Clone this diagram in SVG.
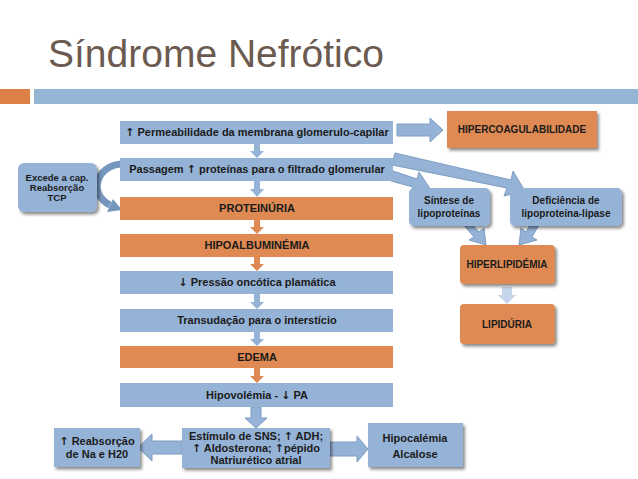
<svg xmlns="http://www.w3.org/2000/svg" width="638" height="479" viewBox="0 0 638 479">
<style>
.bl{fill:#95b3d7}
.or{fill:#df8a52}
.t{font-family:"Liberation Sans",Arial,sans-serif;font-weight:bold;fill:#1b1b1b;text-anchor:middle}
.m{font-size:11px}
.s{font-size:9.5px}
.h{font-size:10px}
.ar{font-family:"DejaVu Sans",sans-serif;font-weight:bold}
.ba{fill:#95b3d7;stroke:#7e9dc2;stroke-width:1}
</style>
<defs>
<filter id="sh" x="-20%" y="-20%" width="150%" height="160%">
<feDropShadow dx="2" dy="2.5" stdDeviation="1.5" flood-color="#000" flood-opacity="0.45"/>
</filter>
</defs>
<rect width="638" height="479" fill="#fff"/>
<text x="48" y="67" font-family="Liberation Sans,Arial,sans-serif" font-size="39" fill="#6b5a50">Síndrome Nefrótico</text>
<rect x="0" y="89" width="30" height="15" fill="#dd8047"/>
<rect x="34" y="89" width="604" height="15" fill="#94b5d3"/>

<g id="connectors">
<polygon class="bl" points="254,144 260,144 260,151 264,151 257,158 250,151 254,151"/>
<polygon class="bl" points="254,181 260,181 260,189 264,189 257,197 250,189 254,189"/>
<polygon class="or" points="254,220 260,220 260,227 264,227 257,234 250,227 254,227"/>
<polygon class="or" points="254,257 260,257 260,264 264,264 257,271 250,264 254,264"/>
<polygon class="bl" points="254,294 260,294 260,302 264,302 257,309 250,302 254,302"/>
<polygon class="bl" points="254,332 260,332 260,339 264,339 257,346 250,339 254,339"/>
<polygon class="or" points="254,368 260,368 260,376 264,376 257,383 250,376 254,376"/>
<polygon class="ba" points="251,407 261,407 261,418 267,418 256,428 245,418 251,418"/>
<polygon class="ba" points="182,441 152,441 152,434 138,447.5 152,461 152,454 182,454"/>
<polygon class="ba" points="330,442 357,442 357,436 368,449 357,462 357,456 330,456"/>
<polygon class="ba" points="397,124 430,124 430,118 443,130 430,142 430,136 397,136"/>
<polygon class="ba" points="395,153 511,180 513,171 525,191 504,196 507,188 392,165"/>
<polygon class="ba" points="393,171 417,179 419,172 431,190 410,193 413,187 391,181"/>
<polygon class="ba" points="462,223 471,223 479,232 484,228 486,245 469,240 474,237"/>
<polygon class="ba" points="531,223 540,223 532,237 537,240 519,245 521,228 526,232"/>
<polygon fill="#c6d6ea" points="502,287 512,287 512,295 516,295 507,304 498,295 502,295"/>
<path d="M121,164 C96,166 88,194 110,205" fill="none" stroke="#7597bd" stroke-width="7"/>
<polygon fill="#7597bd" points="122,210 107,212 113,199"/>
</g>

<g id="n1"><rect class="bl" x="120" y="121" width="273" height="23"/><text class="t m" x="257" y="136"><tspan class="ar">↑</tspan> Permeabilidade da membrana glomerulo-capilar</text></g>
<g id="n2"><rect class="bl" x="120" y="158" width="273" height="23"/><text class="t m" x="257" y="173">Passagem <tspan class="ar">↑</tspan> proteínas para o filtrado glomerular</text></g>
<g id="n3"><rect class="or" x="120" y="197" width="273" height="23"/><text class="t m" x="257" y="212">PROTEINÚRIA</text></g>
<g id="n4"><rect class="or" x="120" y="234" width="273" height="23"/><text class="t m" x="257" y="249">HIPOALBUMINÉMIA</text></g>
<g id="n5"><rect class="bl" x="120" y="271" width="273" height="23"/><text class="t m" x="257" y="286"><tspan class="ar">↓</tspan> Pressão oncótica plamática</text></g>
<g id="n6"><rect class="bl" x="120" y="309" width="273" height="23"/><text class="t m" x="257" y="324">Transudação  para o interstício</text></g>
<g id="n7"><rect class="or" x="120" y="346" width="273" height="22"/><text class="t m" x="257" y="361">EDEMA</text></g>
<g id="n8"><rect class="bl" x="120" y="383" width="273" height="24"/><text class="t m" x="257" y="399">Hipovolémia - <tspan class="ar">↓</tspan> PA</text></g>
<g id="n9"><rect class="bl" x="182" y="428" width="148" height="40" filter="url(#sh)"/><text class="t m" x="256" y="440">Estímulo de SNS; <tspan class="ar">↑</tspan> ADH;</text><text class="t m" x="256" y="452"><tspan class="ar">↑</tspan> Aldosterona; <tspan class="ar">↑</tspan>pépido</text><text class="t m" x="256" y="464">Natriurético atrial</text></g>
<g id="n10"><rect class="bl" x="54" y="428" width="86" height="39" filter="url(#sh)"/><text class="t m" x="97" y="445"><tspan class="ar">↑</tspan> Reabsorção</text><text class="t m" x="97" y="458">de Na e H20</text></g>
<g id="n11"><rect class="bl" x="368" y="423" width="95" height="44" filter="url(#sh)"/><text class="t m" x="415" y="442">Hipocalémia</text><text class="t m" x="415" y="458">Alcalose</text></g>
<g id="n12"><rect class="bl" x="18" y="163" width="79" height="49" rx="6" filter="url(#sh)"/><text class="t s" x="57" y="181">Excede a cap.</text><text class="t s" x="57" y="191">Reabsorção</text><text class="t s" x="57" y="201">TCP</text></g>
<g id="n13"><rect class="or" x="447" y="111" width="150" height="37" filter="url(#sh)"/><text class="t h" x="522" y="133">HIPERCOAGULABILIDADE</text></g>
<g id="n14"><rect class="bl" x="409" y="188" width="81" height="38" rx="5" filter="url(#sh)"/><text class="t h" x="449" y="204">Síntese de</text><text class="t h" x="449" y="217">lipoproteínas</text></g>
<g id="n15"><rect class="bl" x="510" y="188" width="112" height="38" rx="5" filter="url(#sh)"/><text class="t h" x="566" y="204">Deficiência de</text><text class="t h" x="566" y="217">lipoproteína-lipase</text></g>
<g id="n16"><rect class="or" x="460" y="245" width="95" height="39" rx="4" filter="url(#sh)"/><text class="t h" x="507" y="268">HIPERLIPIDÉMIA</text></g>
<g id="n17"><rect class="or" x="460" y="304" width="95" height="40" rx="4" filter="url(#sh)"/><text class="t h" x="507" y="328">LIPIDÚRIA</text></g>
</svg>
